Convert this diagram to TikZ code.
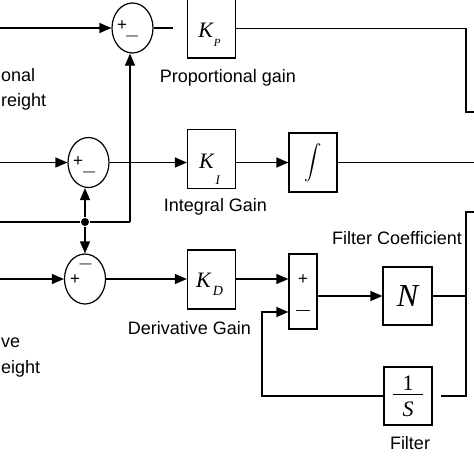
\documentclass[tikz,border=0pt]{standalone}
\usepackage{exscale}
\usepackage{fontspec}
\setmainfont{Liberation Sans}
\newfontfamily\serif{Liberation Serif}
\usetikzlibrary{shapes.geometric,arrows.meta}
\begin{document}
\begin{tikzpicture}[x=1pt,y=-1pt,
  line width=1.2pt,
  sig/.style={-{Triangle[length=12pt,width=10pt]}},
  sumell/.style={draw,ellipse,minimum width=41pt,minimum height=50pt,inner sep=0pt},
  blk/.style={draw,rectangle,minimum width=48pt,minimum height=59pt,inner sep=0pt},
  lbl/.style={font=\fontsize{18}{21}\selectfont,inner sep=0pt,anchor=base},
  sgnp/.style={font=\fontsize{17}{17}\selectfont,inner sep=0pt},
  sgnm/.style={font=\fontsize{12}{12}\selectfont,inner sep=0pt},
  gainfont/.style={font=\serif\itshape\fontsize{22}{22}\selectfont},
]
\useasboundingbox (0,0) rectangle (474,474);
\clip (0,0) rectangle (474,474);

% summing junctions
\node[sumell] (s1) at (132.5,28) {};
\node[sgnp] (s1p) at (122,26) {+};
\node[sgnm] (s1m) at (132,38) {—};
\node[sumell] (s2) at (88.5,162.5) {};
\node[sgnp] (s2p) at (78,162) {+};
\node[sgnm] (s2m) at (89,174) {—};
\node[sumell] (s3) at (85,279) {};
\node[sgnm] (s3m) at (85.5,266) {—};
\node[sgnp] (s3p) at (75,280) {+};
\node[draw,minimum width=28pt,minimum height=75pt,inner sep=0pt] (sb) at (303,291.5) {};
\node[sgnp] (sbp) at (303,280) {+};
\node[sgnm,font=\fontsize{14}{14}\selectfont] (sbm) at (303,312) {—};

% blocks
\node[blk,gainfont,text height=17pt] (kp) at (211.5,28.5) {K\kern1pt\raisebox{-9pt}[0pt][0pt]{\fontsize{11}{11}\selectfont P}\kern4pt};
\node[blk,gainfont,text height=19pt] (ki) at (211.5,159) {K\kern2pt\raisebox{-16pt}[0pt][0pt]{\fontsize{13}{13}\selectfont I}\kern4pt};
\node[blk,gainfont,text height=15pt] (kd) at (211.5,279.5) {K\kern2pt\raisebox{-8pt}[0pt][0pt]{\fontsize{14}{14}\selectfont D}\kern4pt};
\node[blk] (int) at (313,162.5) {\fontsize{18}{18}\selectfont$\displaystyle\int$};
\node[blk,minimum width=49pt,minimum height=58pt,font=\serif\itshape\fontsize{32}{32}\selectfont] (nb) at (407.5,296) {N};
\node[blk,minimum height=58pt,font=\serif\fontsize{22}{22}\selectfont] (fb) at (408,396)
  {\vbox{\hbox to 30pt{\hss 1\hss}\kern4pt\hrule height 1.2pt\kern6pt\hbox to 30pt{\hss\itshape S\hss}}};

% labels
\node[lbl] (lp) at (228,82) {Proportional gain};
\node[lbl] (li) at (215.5,211) {Integral Gain};
\node[lbl] (ld) at (189.5,334) {Derivative Gain};
\node[lbl] (lfc) at (397,244) {Filter Coefficient};
\node[lbl] (lf) at (410,449) {Filter};
\node[lbl,anchor=base west] (w1) at (0.5,81) {onal};
\node[lbl,anchor=base west] (w2) at (0.5,106) {reight};
\node[lbl,anchor=base west] (w3) at (0.5,347) {ve};
\node[lbl,anchor=base west] (w4) at (0.5,373) {eight};

% coordinates
\coordinate (inP) at (0,28);
\coordinate (p1) at (173,28);
\coordinate (tr1) at (466,112);
\coordinate (out1) at (474,112);
\coordinate (fbin) at (0,222);
\node[circle,fill,inner sep=0pt,minimum size=8pt] (dot) at (85,222) {};
\coordinate (fbc) at (130,222);
\coordinate (inI) at (0,162.5);
\coordinate (outI) at (474,162.5);
\coordinate (inD) at (0,279);
\coordinate (jn) at (466,296);
\coordinate (jt) at (466,212);
\coordinate (outD) at (474,212);
\coordinate (jb) at (466,396);
\coordinate (fe) at (441,396);
\coordinate (fl) at (262,396);
\coordinate (fl2) at (262,312);

% proportional path
\draw[sig] (inP) -- (s1.west);
\draw (s1.east) -- (p1);
\draw (kp.east) -- (kp.east -| tr1) -- (tr1) -- (out1);

% feedback
\draw (fbin) -- (dot) -- (fbc);
\draw[sig] (fbc) -- (fbc |- s1.south);
\draw[sig] (dot) -- (dot |- s2.south);
\draw[sig] (dot) -- (dot |- s3.north);

% integral path
\draw[sig] (inI) -- (s2.west);
\draw[sig] (s2.east) -- (s2.east -| ki.west);
\draw[sig] (s2.east -| ki.east) -- (int.west);
\draw (int.east) -- (outI);

% derivative path
\draw[sig] (inD) -- (s3.west);
\draw[sig] (s3.east) -- (s3.east -| kd.west);
\draw[sig] (s3.east -| kd.east) -- (s3.east -| sb.west);
\draw[sig] (sb.east |- nb.west) -- (nb.west);
\draw (nb.east) -- (jn);
\draw (outD) -- (jt) -- (jb) -- (fe);
\draw[sig] (fb.west) -- (fl) -- (fl2) -- (fl2 -| sb.west);
\end{tikzpicture}
\end{document}
